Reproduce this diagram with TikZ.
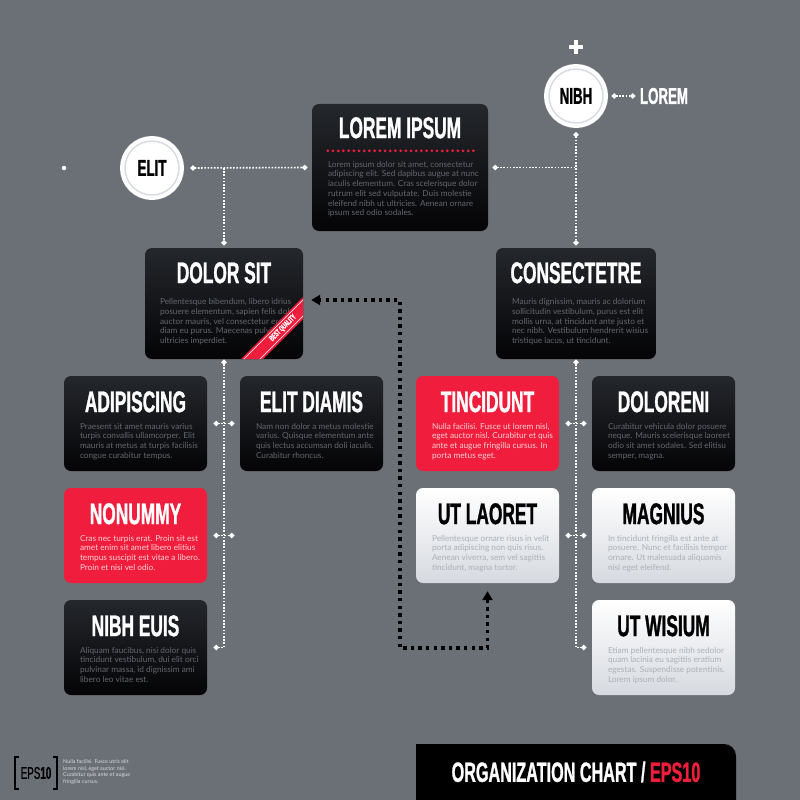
\documentclass[tikz,border=0pt]{standalone}
\usepackage{fontspec}
\setmainfont{Lato}
\newfontfamily\headfont[FakeStretch=0.58,FakeBold=1]{Liberation Sans}
\usetikzlibrary{arrows.meta,positioning}
\definecolor{bggray}{RGB}{107,112,118}
\definecolor{boxtop}{RGB}{36,39,44}
\definecolor{boxbot}{RGB}{4,4,6}
\definecolor{chartred}{RGB}{240,30,60}
\definecolor{lightbot}{RGB}{214,218,224}
\definecolor{ringgray}{RGB}{214,219,225}
\definecolor{darktext}{RGB}{98,103,110}
\definecolor{redtext}{RGB}{255,208,215}
\definecolor{lighttext}{RGB}{172,177,186}
\definecolor{notetext}{RGB}{215,218,222}
\newcommand{\headbig}{\headfont\bfseries\fontsize{30}{30}\selectfont}
\newcommand{\headmid}{\headfont\bfseries\fontsize{23}{23}\selectfont}
\newcommand{\bodysmall}{\fontsize{8.3}{9.8}\selectfont}
\tikzset{
  box/.style={rectangle, rounded corners=7bp, inner sep=0pt, minimum width=143bp, minimum height=95bp},
  darkbox/.style={box, top color=boxtop, bottom color=boxbot},
  redbox/.style={box, fill=chartred},
  lightbox/.style={box, top color=white, bottom color=lightbot},
  boxtitle/.style={font=\headbig, text=white, inner sep=0pt},
  boxtext/.style={font=\bodysmall, text=darktext, align=left, inner sep=0pt, anchor=north west},
  bubble/.style={circle, fill=white, draw=ringgray, line width=1.4bp, minimum size=54bp, inner sep=0pt, font=\headmid, preaction={draw=white, line width=10bp}},
  enddot/.style={circle, fill=white, inner sep=0pt, minimum size=4.5bp},
  link/.style={draw=white, line width=1.6bp, dash pattern=on 1.6bp off 1.6bp},
  dotends/.style={{Circle[length=5bp]}-{Circle[length=5bp]}},
  dotstart/.style={{Circle[length=5bp]}-},
  dotend/.style={-{Circle[length=5bp]}},
  flowarrow/.style={draw=black, line width=3.4bp, dash pattern=on 3.4bp off 4.2bp, {Triangle[length=9bp,width=10bp]}-{Triangle[length=9bp,width=10bp]}}
}
\begin{document}
\begin{tikzpicture}[x=1bp,y=-1bp]
\fill[bggray] (0,0) rectangle (800,800);
\useasboundingbox (0,0) rectangle (800,800);
% top row
\node[darkbox, minimum width=176bp, minimum height=127bp] (lorem) at (400,167.5) {};
\node[boxtitle] (loremT) at ([yshift=-24bp]lorem.north) {LOREM IPSUM};
\draw[chartred, line width=3bp, line cap=round, dash pattern=on 0bp off 5.2bp] ([shift={(16bp,-47bp)}]lorem.north west) -- ([shift={(-14bp,-47bp)}]lorem.north east);
\node[boxtext] (loremB) at ([shift={(16bp,-57bp)}]lorem.north west) {Lorem ipsum dolor sit amet, consectetur\\adipiscing elit. Sed dapibus augue at nunc\\iaculis elementum. Cras scelerisque dolor\\rutrum elit sed vulputate. Duis molestie\\eleifend nibh ut ultricies. Aenean ornare\\ipsum sed odio sodales.};
\node[bubble] (elit) at (152,168) {ELIT};
\node[bubble] (nibh) at (576,96) {NIBH};
\node[font=\headmid, text=white, inner sep=0pt] (tag) at (664,96) {LOREM};
\node[enddot] (stray) at (64,168) {};
\draw[white, line width=3.5bp] (569,47) -- (583,47) (576,40) -- (576,54);
% second row
\node[darkbox, minimum width=158bp, minimum height=111bp] (dolor) at (224,303.5) {};
\node[boxtitle] (dolorT) at ([yshift=-25bp]dolor.north) {DOLOR SIT};
\node[boxtext] (dolorB) at ([shift={(15bp,-50.5bp)}]dolor.north west) {Pellentesque bibendum, libero idrius\\posuere elementum, sapien felis dolor\\auctor mauris, vel consectetur erat s\\diam eu purus. Maecenas pulvina\\ultricies imperdiet.};
\begin{scope}
\clip[rounded corners=7bp] (dolor.south west) rectangle (dolor.north east);
\fill[chartred] (312,288) -- (232,368) -- (254,368) -- (312,310) -- cycle;
\draw[white, line width=0.6bp] (312,291) -- (235,368) (312,307) -- (251,368);
\end{scope}
\node[rotate=45, text=white, inner sep=0pt, font=\headfont\bfseries\fontsize{8}{8}\selectfont] (quality) at (283,328) {BEST QUALITY};
\node[darkbox, minimum width=160bp, minimum height=111bp] (consec) at (576,303.5) {};
\node[boxtitle] (consecT) at ([yshift=-25bp]consec.north) {CONSECTETRE};
\node[boxtext] (consecB) at ([shift={(16bp,-50.5bp)}]consec.north west) {Mauris dignissim, mauris ac dolorium\\sollicitudin vestibulum, purus est elit\\mollis urna, at tincidunt ante justo et\\nec nibh. Vestibulum hendrerit wisius\\tristique lacus, ut tincidunt.};
% third row
\node[darkbox] (adip) at (135.5,423.5) {};
\node[boxtitle] (adipT) at ([yshift=-26bp]adip.north) {ADIPISCING};
\node[boxtext] (adipB) at ([shift={(16bp,-47bp)}]adip.north west) {Praesent sit amet mauris varius\\turpis convallis ullamcorper. Elit\\mauris at metus at turpis facilisis\\congue curabitur tempus.};
\node[darkbox] (elitd) at (311.5,423.5) {};
\node[boxtitle] (elitdT) at ([yshift=-26bp]elitd.north) {ELIT DIAMIS};
\node[boxtext] (elitdB) at ([shift={(16bp,-47bp)}]elitd.north west) {Nam non dolor a metus molestie\\varius. Quisque elementum ante\\quis lectus accumsan doli iaculis.\\Curabitur rhoncus.};
\node[redbox] (tincid) at (487.5,423.5) {};
\node[boxtitle] (tincidT) at ([yshift=-26bp]tincid.north) {TINCIDUNT};
\node[boxtext, text=redtext] (tincidB) at ([shift={(16bp,-47bp)}]tincid.north west) {Nulla facilisi. Fusce ut lorem nisl,\\eget auctor nisl. Curabitur et quis\\ante et augue fringilla cursus. In\\porta metus eget.};
\node[darkbox] (dolore) at (663.5,423.5) {};
\node[boxtitle] (doloreT) at ([yshift=-26bp]dolore.north) {DOLORENI};
\node[boxtext] (doloreB) at ([shift={(16bp,-47bp)}]dolore.north west) {Curabitur vehicula dolor posuere\\neque. Mauris scelerisque laoreet\\odio sit amet sodales. Sed elitisu\\semper, magna.};
% fourth row
\node[redbox] (nonummy) at (135.5,535.5) {};
\node[boxtitle] (nonummyT) at ([yshift=-26bp]nonummy.north) {NONUMMY};
\node[boxtext, text=redtext] (nonummyB) at ([shift={(16bp,-47bp)}]nonummy.north west) {Cras nec turpis erat. Proin sit est\\amet enim sit amet libero elitius\\tempus suscipit est vitae a libero.\\Proin et nisi vel odio.};
\node[lightbox] (laoret) at (487.5,535.5) {};
\node[boxtitle, text=black] (laoretT) at ([yshift=-26bp]laoret.north) {UT LAORET};
\node[boxtext, text=lighttext] (laoretB) at ([shift={(16bp,-47bp)}]laoret.north west) {Pellentesque ornare risus in velit\\porta adipiscing non quis risus.\\Aenean viverra, sem vel sagittis\\tincidunt, magna tortor.};
\node[lightbox] (magnius) at (663.5,535.5) {};
\node[boxtitle, text=black] (magniusT) at ([yshift=-26bp]magnius.north) {MAGNIUS};
\node[boxtext, text=lighttext] (magniusB) at ([shift={(16bp,-47bp)}]magnius.north west) {In tincidunt fringilla est ante at\\posuere. Nunc et facilisis tempor\\ornare. Ut malesuada aliquamis\\nisl eget eleifend.};
% fifth row
\node[darkbox] (nibheuis) at (135.5,647.5) {};
\node[boxtitle] (nibheuisT) at ([yshift=-26bp]nibheuis.north) {NIBH EUIS};
\node[boxtext] (nibheuisB) at ([shift={(16bp,-47bp)}]nibheuis.north west) {Aliquam faucibus, nisi dolor quis\\tincidunt vestibulum, dui elit orci\\pulvinar massa, id dignissim ami\\libero leo vitae est.};
\node[lightbox] (wisium) at (663.5,647.5) {};
\node[boxtitle, text=black] (wisiumT) at ([yshift=-26bp]wisium.north) {UT WISIUM};
\node[boxtext, text=lighttext] (wisiumB) at ([shift={(16bp,-47bp)}]wisium.north west) {Etiam pellentesque nibh sedolor\\quam lacinia eu sagittis eratium\\egestas. Suspendisse potentinis.\\Lorem ipsum dolor.};
% links
\draw[link, dotends] ([xshift=10.8bp]elit.east) -- ([xshift=-4.5bp]lorem.west);
\draw[link, dotend] (dolor.north |- elit.east) -- ([yshift=2.5bp]dolor.north);
\draw[link, dotstart] ([xshift=4.5bp]lorem.east) -- (consec.north |- lorem.east);
\draw[link, dotends] ([yshift=-8.5bp]nibh.south) -- ([yshift=2.5bp]consec.north);
\draw[link, dotends] ([xshift=8bp]nibh.east) -- ([xshift=-4.5bp]tag.west);
\draw[link, dotends] ([yshift=-0.5bp]dolor.south) -- (dolor.south |- nibheuis.east) -- ([xshift=6.5bp]nibheuis.east);
\draw[link, dotends] ([xshift=6.5bp]adip.east) -- ([xshift=-5.5bp]elitd.west);
\draw[link, dotends] ([xshift=6.5bp]nonummy.east) -- ([xshift=-5.5bp]nonummy.east -| elitd.west);
\draw[link, dotends] ([yshift=-0.5bp]consec.south) -- (consec.south |- wisium.west) -- ([xshift=-5.5bp]wisium.west);
\draw[link, dotends] ([xshift=6.5bp]tincid.east) -- ([xshift=-5.5bp]dolore.west);
\draw[link, dotends] ([xshift=6.5bp]laoret.east) -- ([xshift=-5.5bp]magnius.west);
\coordinate (bend) at (400,648);
\draw[flowarrow] ([yshift=-8bp]laoret.south) |- (bend) |- ([shift={(8bp,3.5bp)}]dolor.east);
% footer
\draw[black, line width=1.3bp] (19,757) -- (15,757) -- (15,789) -- (19,789) (53,757) -- (57,757) -- (57,789) -- (53,789);
\node[inner sep=0pt, font=\headfont\fontsize{17}{17}\selectfont] (eps) at (36,773) {EPS\textbf{10}};
\node[anchor=west, inner sep=0pt, align=left, text=notetext, font=\fontsize{5.4}{7}\selectfont] (epsnote) at (63,772) {Nulla facilisi. Fusce utris elit\\lorem nisl, eget auctor nisl.\\Curabitur quis ante et augue\\fringilla cursus.};
\fill[black, rounded corners=12bp] (416,744) rectangle (736,830);
\fill[black] (416,744) rectangle (432,760);
\node[boxtitle, font=\headfont\bfseries\fontsize{28}{28}\selectfont] (banner) at (576,772) {ORGANIZATION CHART / \textcolor{chartred}{EPS10}};
\end{tikzpicture}
\end{document}
